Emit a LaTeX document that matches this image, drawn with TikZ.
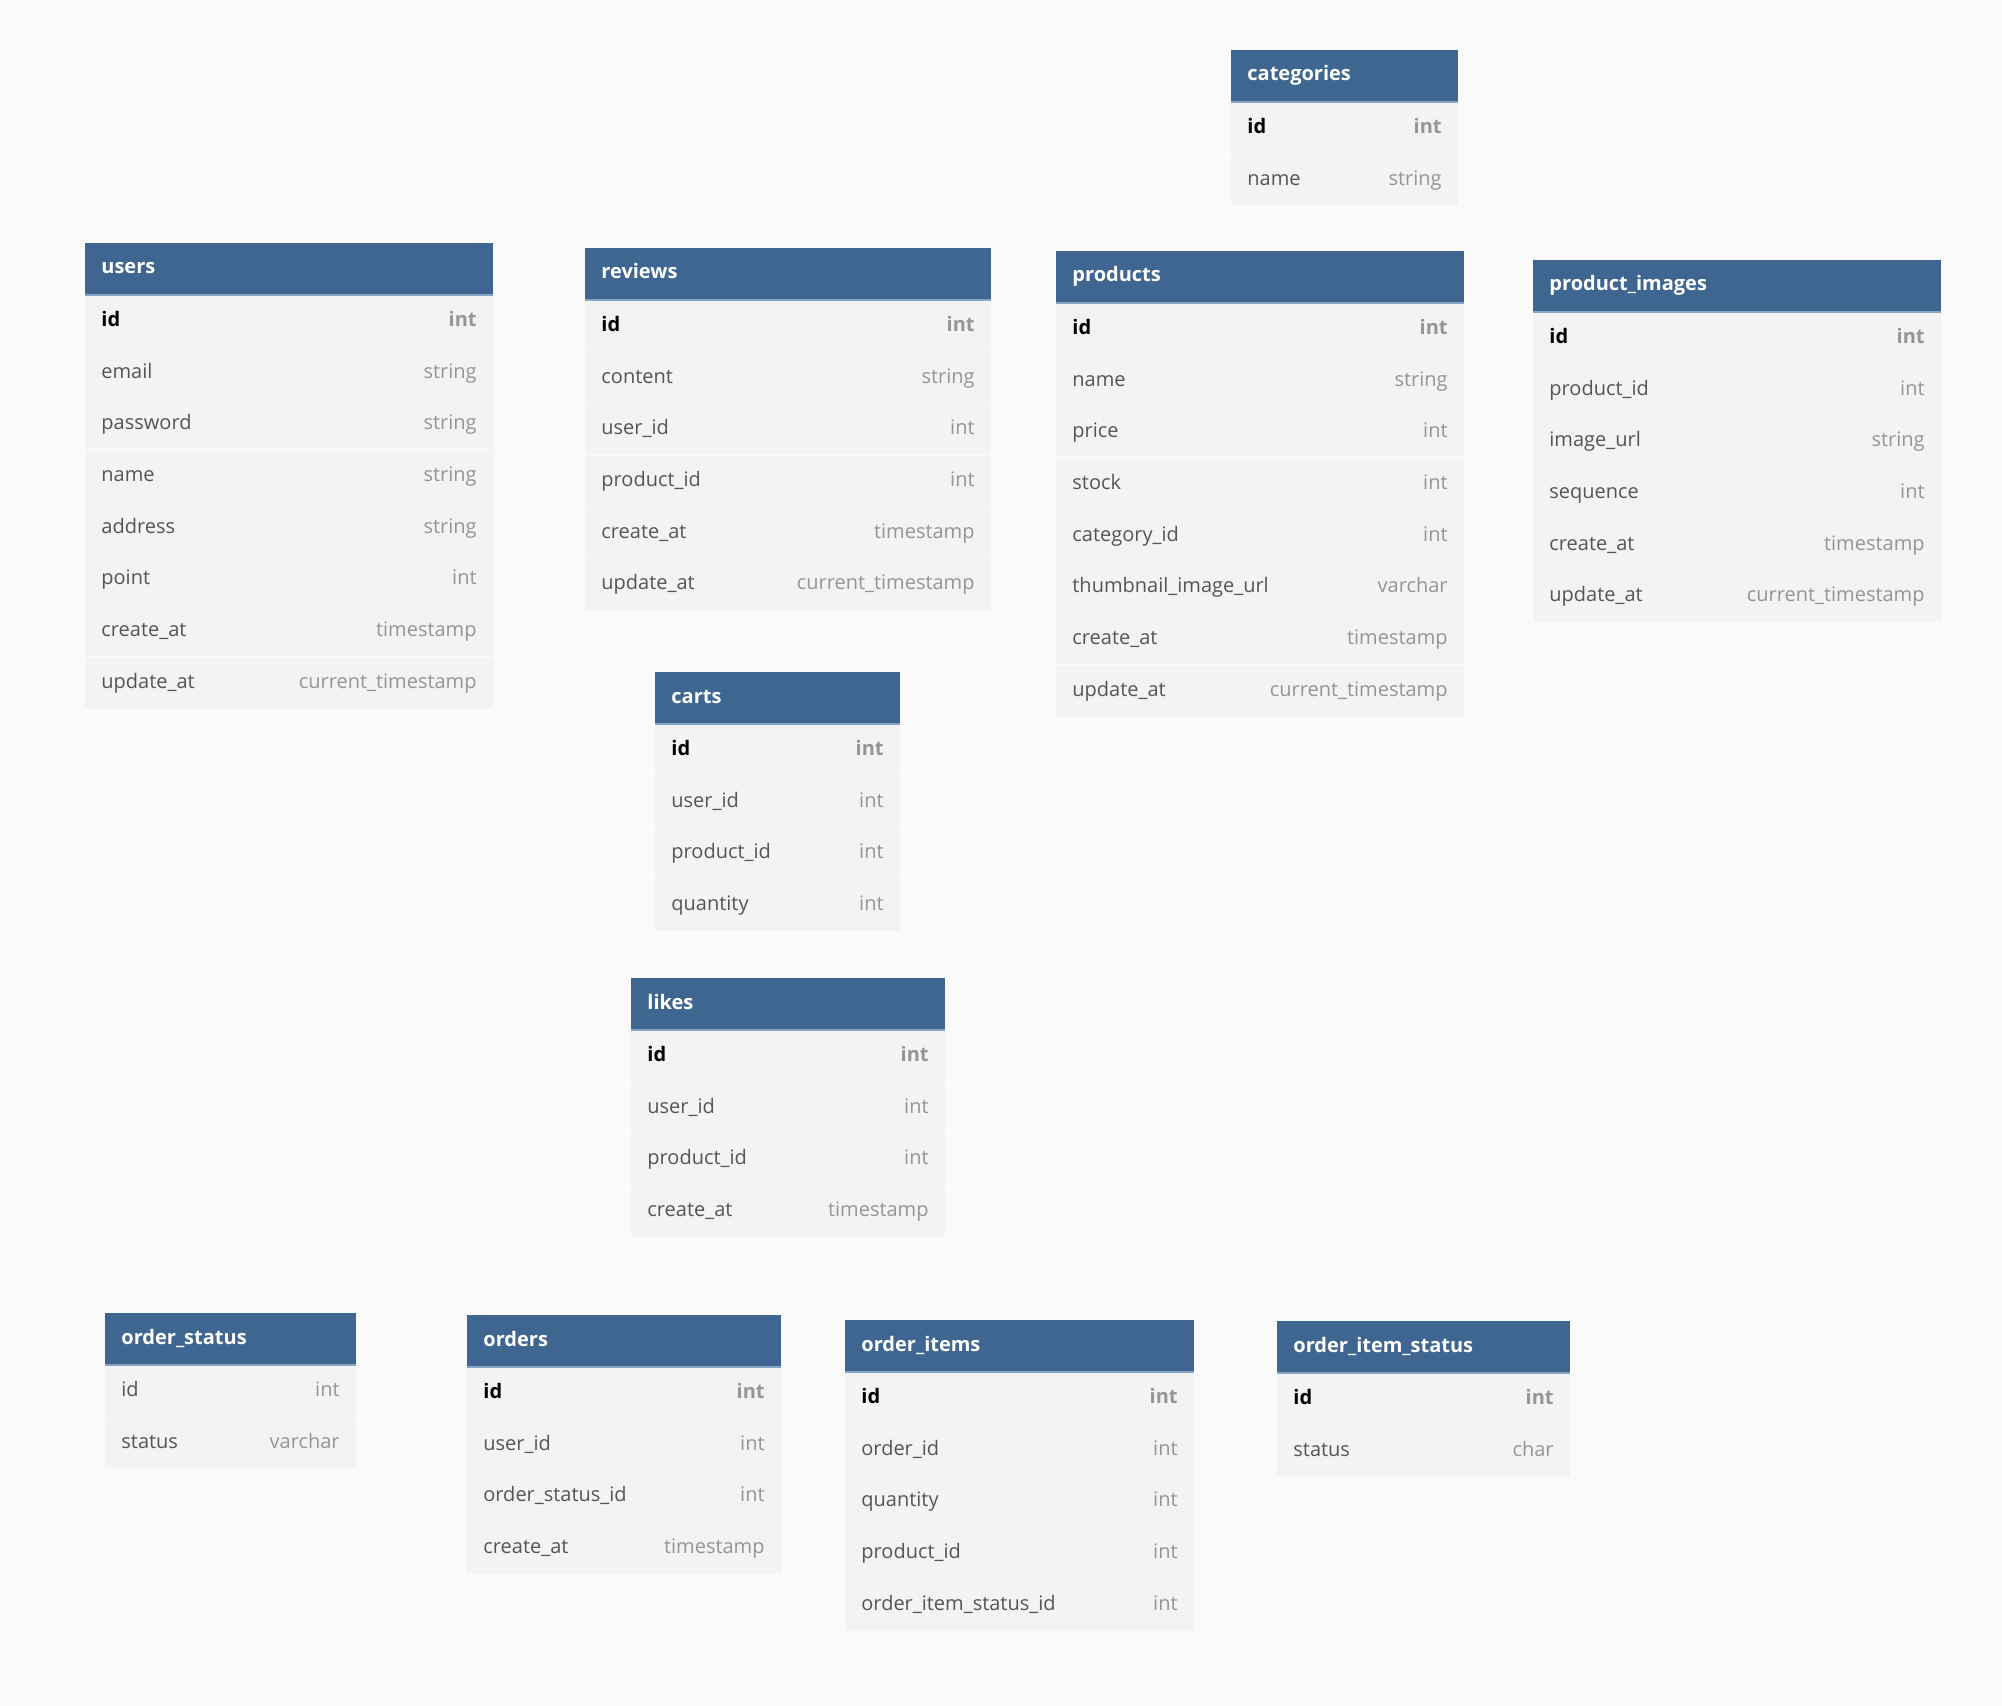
\documentclass[tikz,border=0pt]{standalone}
\usepackage{fontspec}
\setmainfont{Open Sans}
\definecolor{pagebg}{HTML}{FAFAFA}
\definecolor{rowbg}{HTML}{F3F3F3}
\definecolor{hdrbg}{HTML}{3E6690}
\definecolor{hdrln}{HTML}{86A4C4}
\definecolor{sepc}{HTML}{F8F8F8}
\definecolor{namec}{HTML}{555555}
\definecolor{typec}{HTML}{959595}
\definecolor{keyc}{HTML}{000000}
\tikzset{
  hdrtext/.style={anchor=base west, inner sep=0pt, text=white, font=\fontsize{10}{12}\selectfont\bfseries},
  fldn0/.style={anchor=base west, inner sep=0pt, text=namec, font=\fontsize{10}{12}\selectfont},
  fldn1/.style={anchor=base west, inner sep=0pt, text=keyc, font=\fontsize{10}{12}\selectfont\bfseries},
  fldt0/.style={anchor=base east, inner sep=0pt, text=typec, font=\fontsize{10}{12}\selectfont},
  fldt1/.style={anchor=base east, inner sep=0pt, text=typec, font=\fontsize{10}{12}\selectfont\bfseries},
  sepline/.style={draw=sepc, line width=0.6pt},
  hdrline/.style={draw=hdrln, line width=0.6pt},
}
% #1 id, #2 x left, #3 x right, #4 y top, #5 number of rows, #6 title, #7 rows
\newcommand{\erdtab}[7]{%
  \fill[hdrbg] (#2,#4) rectangle (#3,#4+52);
  \fill[rowbg] (#2,#4+52) rectangle (#3,#4+52+#5*51.7);
  \pgfmathtruncatemacro\nsep{#5-1}
  \foreach \k in {1,...,\nsep} {
    \draw[sepline] (#2,#4+52+\k*51.7) -- (#3,#4+52+\k*51.7);
  }
  \draw[hdrline] (#2,#4+52) -- (#3,#4+52);
  \node[hdrtext] (#1) at (#2+16,#4+31) {#6};
  \foreach \fn/\ft/\fk [count=\i] in {#7} {
    \node[fldn\fk] (#1-n\i) at (#2+16,#4+52+\i*51.7-25.85+5.5) {\fn};
    \node[fldt\fk] (#1-t\i) at (#3-16,#4+52+\i*51.7-25.85+5.5) {\ft};
  }
}
\begin{document}
\begin{tikzpicture}[x=0.5pt,y=-0.5pt]
\fill[pagebg] (0,0) rectangle (2002,1706);
\useasboundingbox (0,0) rectangle (2002,1706);

\erdtab{categories}{1231}{1458}{50}{2}{categories}{id/int/1, name/string/0}

\erdtab{users}{85}{493}{243}{8}{users}{id/int/1, email/string/0, password/string/0, name/string/0, address/string/0, point/int/0, create\_at/timestamp/0, update\_at/current\_timestamp/0}

\erdtab{reviews}{585}{991}{248}{6}{reviews}{id/int/1, content/string/0, user\_id/int/0, product\_id/int/0, create\_at/timestamp/0, update\_at/current\_timestamp/0}

\erdtab{products}{1056}{1464}{251}{8}{products}{id/int/1, name/string/0, price/int/0, stock/int/0, category\_id/int/0, thumbnail\_image\_url/varchar/0, create\_at/timestamp/0, update\_at/current\_timestamp/0}

\erdtab{productimages}{1533}{1941}{260}{6}{product\_images}{id/int/1, product\_id/int/0, image\_url/string/0, sequence/int/0, create\_at/timestamp/0, update\_at/current\_timestamp/0}

\erdtab{carts}{655}{900}{672}{4}{carts}{id/int/1, user\_id/int/0, product\_id/int/0, quantity/int/0}

\erdtab{likes}{631}{945}{978}{4}{likes}{id/int/1, user\_id/int/0, product\_id/int/0, create\_at/timestamp/0}

\erdtab{orderstatus}{105}{356}{1313}{2}{order\_status}{id/int/0, status/varchar/0}

\erdtab{orders}{467}{781}{1315}{4}{orders}{id/int/1, user\_id/int/0, order\_status\_id/int/0, create\_at/timestamp/0}

\erdtab{orderitems}{845}{1194}{1320}{5}{order\_items}{id/int/1, order\_id/int/0, quantity/int/0, product\_id/int/0, order\_item\_status\_id/int/0}

\erdtab{orderitemstatus}{1277}{1570}{1321}{2}{order\_item\_status}{id/int/1, status/char/0}
\end{tikzpicture}
\end{document}
